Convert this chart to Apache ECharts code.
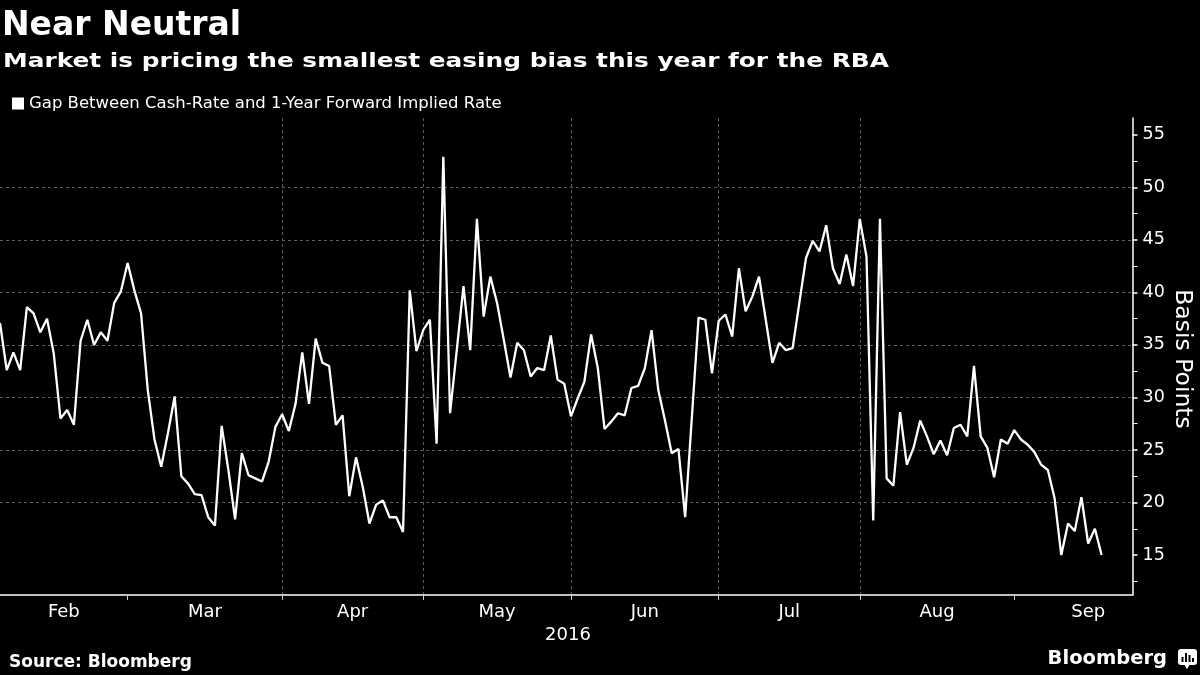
<!DOCTYPE html>
<html lang="en">
	<head>
		<meta charset="UTF-8">
		<meta name="viewport" content="width=device-width, initial-scale=1.0">
		<title>Near Neutral</title>
		<style type="text/css">
			html,
			body,
			.canvas {
				padding: 0;
				margin: 0;
				overflow: hidden;
				background-color: #000;
				width: 1200px;
				height: 675px;
			}
		</style>
	</head>
	<body>
		<div class="canvas" id="chart"></div>
		<script type="text/javascript" src="https://cdn.jsdelivr.net/npm/echarts@6.0.0/dist/echarts.min.js"></script>
		<script>
			// weekday index 0 = Feb 3 2016, last = Sep 20 2016 (basis points)
			const gapBps = [
				37.1, 32.6, 34.3, 32.6, 38.6, 38.0, 36.2, 37.5, 34.2, 28.0,
				28.8, 27.4, 35.4, 37.4, 35.0, 36.2, 35.4, 39.0, 40.1, 42.8,
				40.2, 38.0, 30.7, 26.0, 23.4, 26.6, 30.1, 22.5, 21.8, 20.8,
				20.7, 18.6, 17.8, 27.3, 23.1, 18.4, 24.7, 22.6, 22.3, 22.0,
				23.9, 27.2, 28.4, 26.8, 29.4, 34.3, 29.4, 35.6, 33.3, 33.0,
				27.4, 28.3, 20.6, 24.3, 21.5, 18.0, 19.8, 20.2, 18.6, 18.6,
				17.2, 40.2, 34.4, 36.4, 37.4, 25.6, 52.9, 28.5, 34.5, 40.6,
				34.5, 47.0, 37.7, 41.5, 39.0, 35.5, 31.9, 35.2, 34.5, 32.0,
				32.8, 32.6, 35.9, 31.7, 31.3, 28.2, 29.9, 31.5, 36.0, 32.8,
				27.0, 27.7, 28.5, 28.3, 30.9, 31.1, 32.8, 36.4, 30.7, 27.8,
				24.7, 25.1, 18.6, 28.1, 37.6, 37.4, 32.3, 37.3, 37.9, 35.8,
				42.3, 38.2, 39.6, 41.5, 37.4, 33.3, 35.2, 34.5, 34.7, 39.0,
				43.3, 44.9, 43.9, 46.4, 42.3, 40.8, 43.6, 40.6, 47.0, 43.4,
				18.3, 47.0, 22.3, 21.6, 28.6, 23.6, 25.2, 27.8, 26.3, 24.6,
				25.9, 24.5, 27.1, 27.4, 26.3, 33.0, 26.3, 25.2, 22.4, 26.0,
				25.6, 26.9, 26.0, 25.5, 24.8, 23.6, 23.1, 20.4, 15.0, 18.0,
				17.3, 20.5, 16.1, 17.5, 15.0
			];
			const monthNames = ['Feb', 'Mar', 'Apr', 'May', 'Jun', 'Jul', 'Aug', 'Sep'];
			// weekday index of each month's first trading day (Mar..Sep)
			const monthStartIdx = [19, 42, 63, 85, 107, 128, 151];
			// where the month names sit
			const monthLabelIdx = [9.5, 30.5, 52.5, 74, 96, 117.5, 139.5, 162];
			const yTicks = [15, 20, 25, 30, 35, 40, 45, 50, 55];
			const yMinorTicks = [12.5, 17.5, 22.5, 27.5, 32.5, 37.5, 42.5, 47.5, 52.5];

			const seriesName = 'Gap Between Cash-Rate and 1-Year Forward Implied Rate';
			const font = 'DejaVu Sans';
			const grid = '#5c5c5c';

			const chart = echarts.init(document.getElementById('chart'), null, { renderer: 'canvas' });

			chart.setOption({
				backgroundColor: '#000',
				animation: false,
				textStyle: { fontFamily: font, color: '#fff' },
				grid: { left: 0, right: 67.5, top: 118, bottom: 80, containLabel: false },
				legend: {
					left: 12,
					top: 95,
					padding: 0,
					icon: 'rect',
					itemWidth: 12,
					itemHeight: 12,
					itemStyle: { color: '#fff' },
					textStyle: { color: '#fff', fontSize: 16.5, fontFamily: font },
					data: [seriesName]
				},
				xAxis: {
					type: 'value',
					min: 0,
					max: 168.6,
					axisLine: { show: true, onZero: false, lineStyle: { color: '#fff', width: 1.5 } },
					axisTick: {
						show: true,
						length: 5,
						customValues: monthStartIdx,
						lineStyle: { color: '#ccc', width: 1 }
					},
					splitLine: {
						show: true,
						showMinLine: false,
						showMaxLine: false,
						lineStyle: { color: grid, type: [3, 3], width: 1 }
					},
					axisLabel: {
						customValues: monthLabelIdx,
						margin: 8,
						fontSize: 18,
						color: '#fff',
						fontFamily: font,
						formatter: function(val) {
							let k = 0;
							for (let i = 1; i < monthLabelIdx.length; i++) {
								if (Math.abs(monthLabelIdx[i] - val) < Math.abs(monthLabelIdx[k] - val)) k = i;
							}
							return monthNames[k];
						}
					}
				},
				yAxis: [{
					type: 'value',
					position: 'right',
					min: 11.2,
					max: 56.6,
					axisLine: { show: true, onZero: false, lineStyle: { color: '#fff', width: 1.5 } },
					axisTick: {
						show: true,
						length: 5,
						customValues: yTicks,
						lineStyle: { color: '#fff', width: 1.5 }
					},
					splitLine: {
						show: true,
						showMinLine: false,
						showMaxLine: false,
						lineStyle: { color: grid, type: [3, 3], width: 1 }
					},
					axisLabel: {
						customValues: yTicks,
						margin: 10,
						fontSize: 17.5,
						color: '#fff',
						fontFamily: font
					}
				}, {
					type: 'value',
					position: 'right',
					min: 11.2,
					max: 56.6,
					axisLine: { show: false, onZero: false },
					axisTick: {
						show: true,
						length: 5,
						customValues: yMinorTicks,
						lineStyle: { color: '#fff', width: 1 }
					},
					splitLine: { show: false },
					axisLabel: { show: false }
				}],
				series: [{
					name: seriesName,
					type: 'line',
					yAxisIndex: 0,
					symbol: 'none',
					color: '#fff',
					lineStyle: { color: '#fff', width: 2.3 },
					data: gapBps.map((v, i) => [i, v])
				}],
				graphic: [
					{
						type: 'text', x: 2, y: 26,
						style: { text: 'Near Neutral', fill: '#fff', font: 'bold 33px "DejaVu Sans"', verticalAlign: 'middle' }
					},
					{
						type: 'text', x: 3, y: 61.5, scaleX: 1.24,
						style: { text: 'Market is pricing the smallest easing bias this year for the RBA', fill: '#fff', font: 'bold 20px "DejaVu Sans"', verticalAlign: 'middle' }
					},
					{
						type: 'text', x: 568, y: 635,
						style: { text: '2016', fill: '#fff', font: '18px "DejaVu Sans"', align: 'center', verticalAlign: 'middle' }
					},
					{
						type: 'text', x: 1182, y: 359, rotation: -Math.PI / 2,
						style: { text: 'Basis Points', fill: '#fff', font: '23.5px "DejaVu Sans"', align: 'center', verticalAlign: 'middle' }
					},
					{
						type: 'text', x: 9, y: 663,
						style: { text: 'Source: Bloomberg', fill: '#fff', font: 'bold 17px "DejaVu Sans"', verticalAlign: 'middle' }
					},
					{
						type: 'text', x: 1167, y: 659,
						style: { text: 'Bloomberg', fill: '#fff', font: 'bold 19.5px "DejaVu Sans"', align: 'right', verticalAlign: 'middle' }
					},
					// little terminal icon next to the wordmark
					{
						type: 'group',
						children: [
							{ type: 'rect', shape: { x: 1178, y: 649, width: 19, height: 16, r: 3 }, style: { fill: '#fff' } },
							{ type: 'polygon', shape: { points: [[1184, 664], [1190, 664], [1187, 669]] }, style: { fill: '#fff' } },
							{ type: 'rect', shape: { x: 1181.5, y: 657, width: 2, height: 5 }, style: { fill: '#000' } },
							{ type: 'rect', shape: { x: 1185, y: 653, width: 2, height: 9 }, style: { fill: '#000' } },
							{ type: 'rect', shape: { x: 1188.5, y: 655, width: 2, height: 7 }, style: { fill: '#000' } },
							{ type: 'rect', shape: { x: 1192, y: 658, width: 2, height: 4 }, style: { fill: '#000' } }
						]
					}
				]
			});
		</script>
	</body>
</html>
